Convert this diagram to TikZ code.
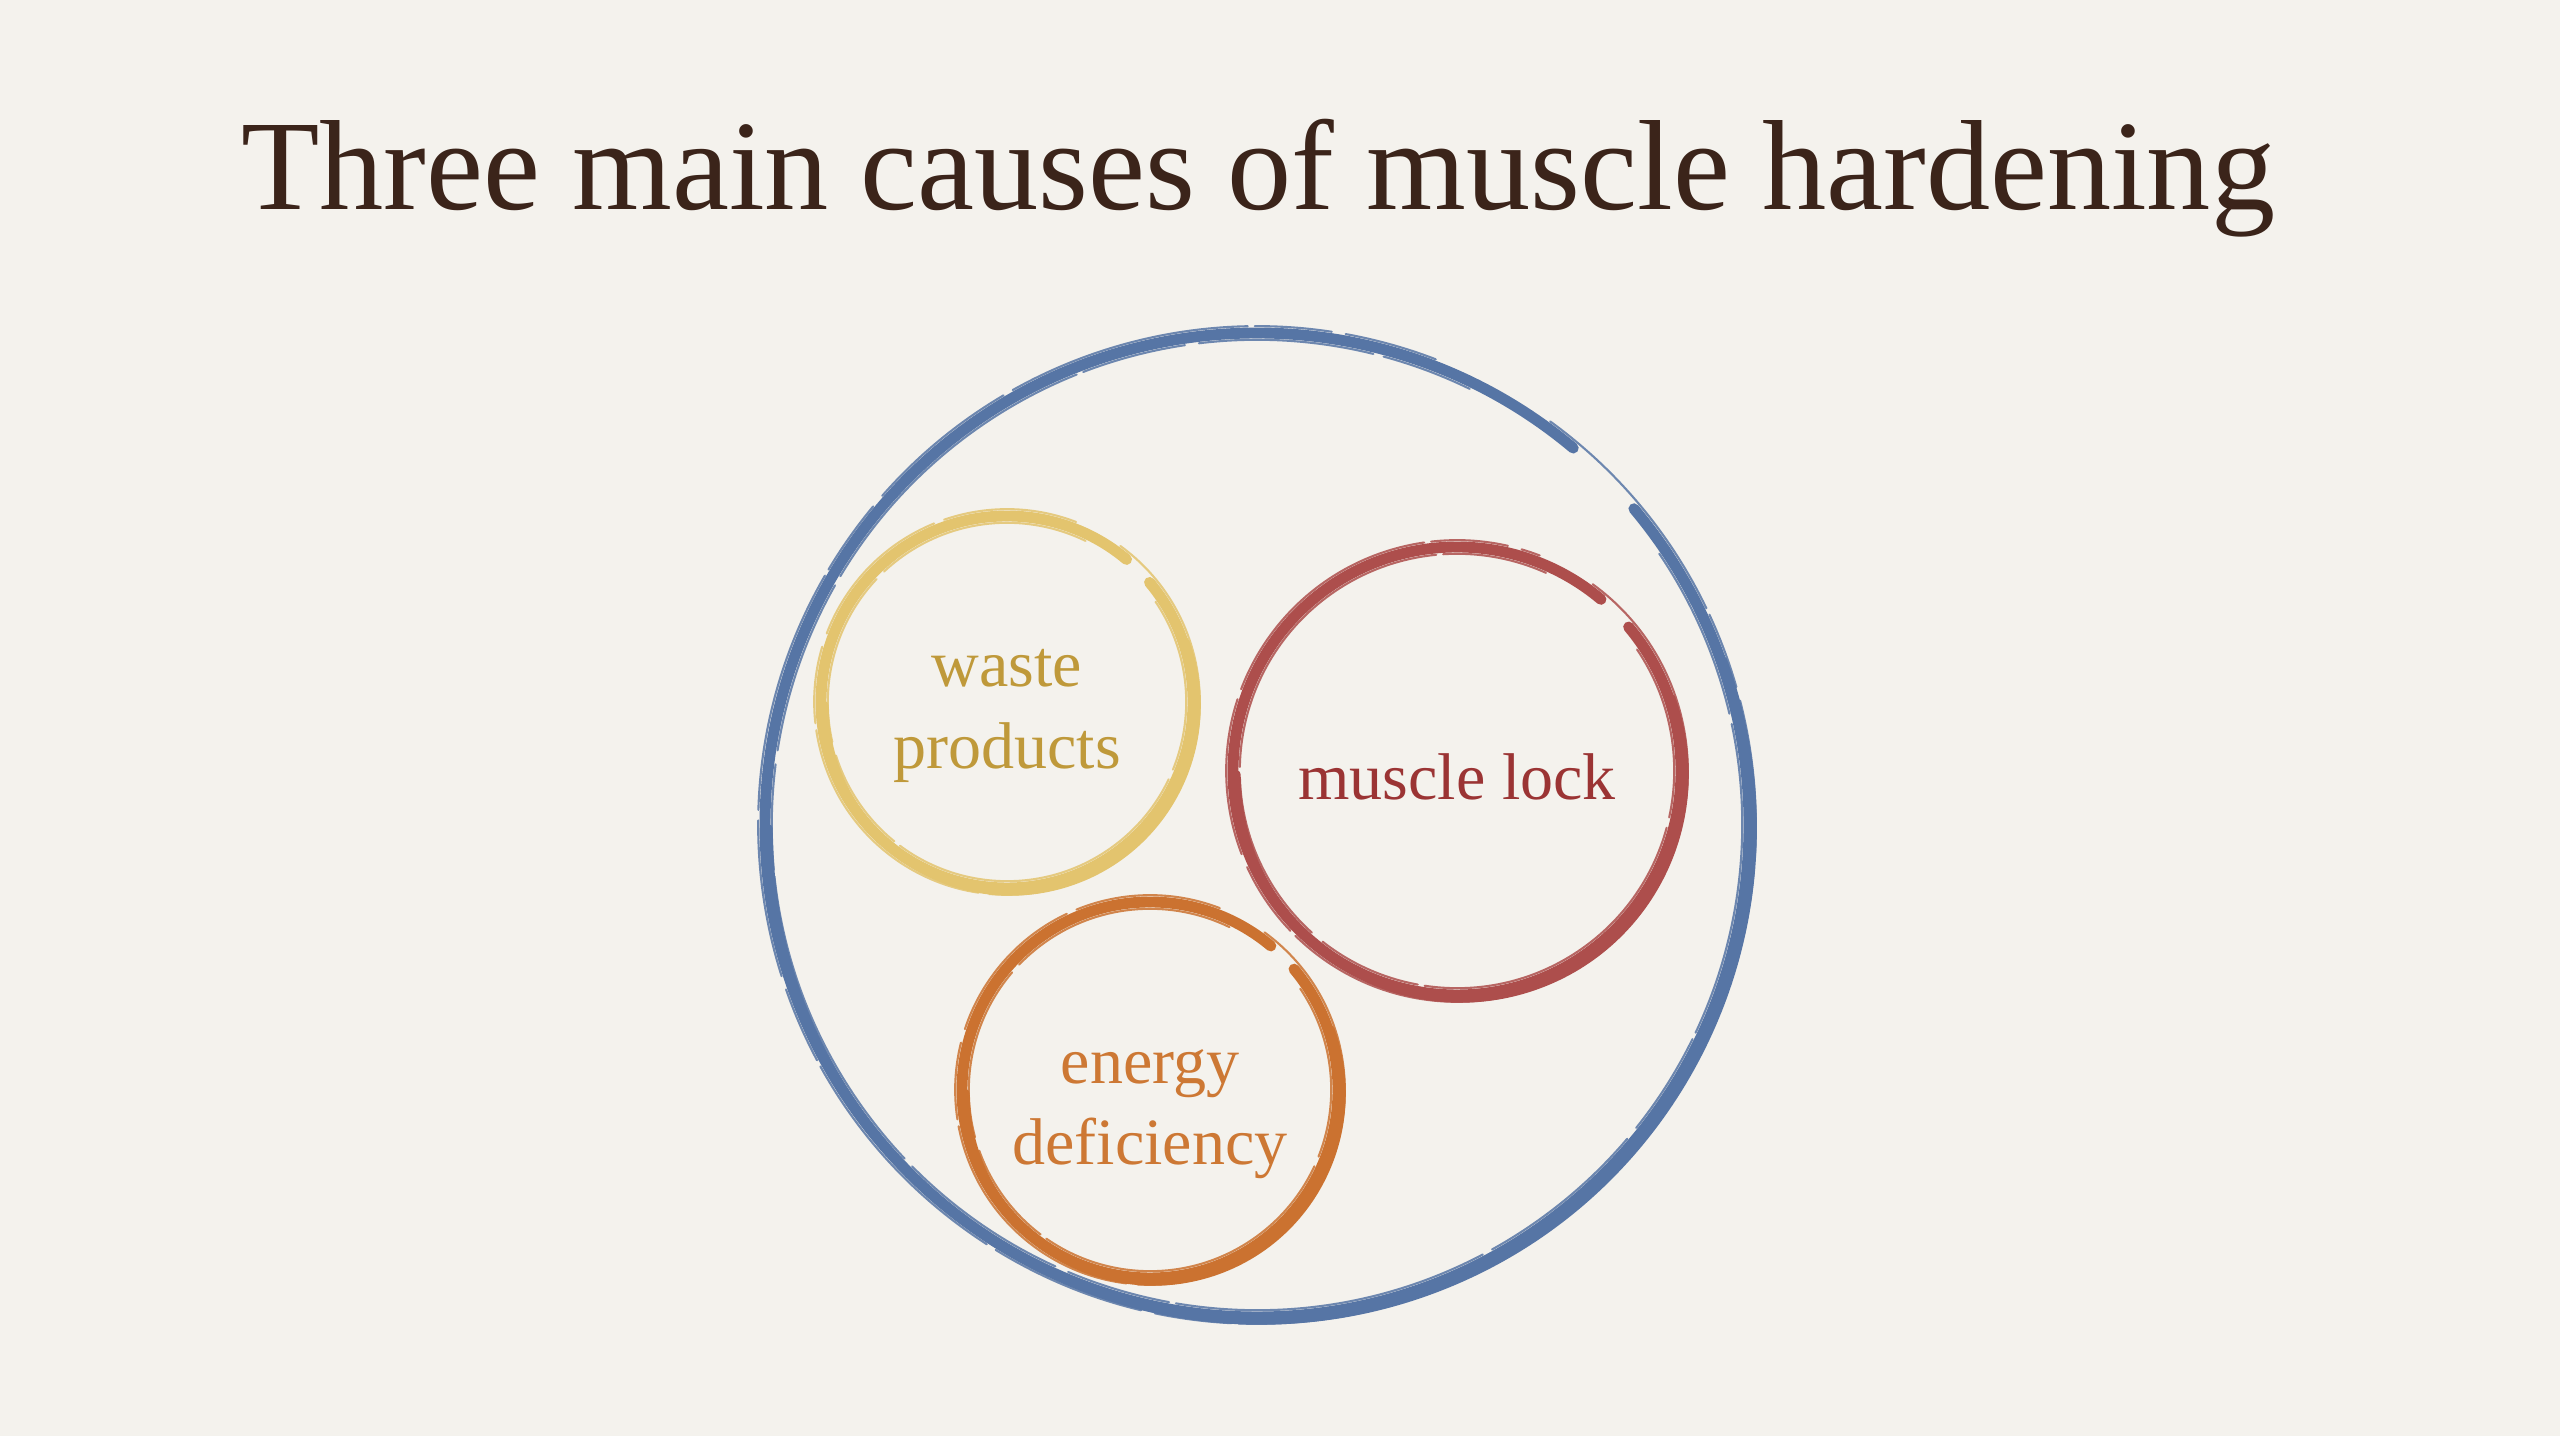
\documentclass[tikz,border=0pt]{standalone}
\usepackage{fontspec}
\setmainfont{Liberation Serif}
\usetikzlibrary{calc}
\definecolor{paper}{RGB}{244,242,237}
\definecolor{titlebrown}{RGB}{59,36,26}
\definecolor{ringblue}{RGB}{86,117,165}
\definecolor{ringgold}{RGB}{227,196,110}
\definecolor{ringred}{RGB}{173,78,76}
\definecolor{ringorange}{RGB}{203,114,48}
\definecolor{textgold}{RGB}{191,153,58}
\definecolor{textred}{RGB}{155,52,52}
\definecolor{textorange}{RGB}{205,120,52}

\begin{document}
\begin{tikzpicture}[line cap=round,line join=round,
  ring/.style={circle,inner sep=0pt},
  causetext/.style={align=center,inner sep=0pt,
    font=\fontsize{18.8}{23.2}\selectfont}]
 % Paper background, fixes the page size.
 \fill[paper] (0,0) rectangle (25.6,14.36);
 \useasboundingbox (0,0) rectangle (25.6,14.36);
 \node[titlebrown,font=\fontsize{36.5}{40}\selectfont,anchor=base]
  (title) at (12.58,12.26) {Three main causes of muscle hardening};
 % The body and the three causes inside it.
 \node[ring,minimum size=9.84cm] (body) at (12.57,6.11) {};
 \node[ring,minimum size=3.72cm] (waste) at (10.07,7.34) {};
 \node[ring,minimum size=4.48cm] (lock) at (14.57,6.65) {};
 \node[ring,minimum size=3.76cm] (energy) at (11.50,3.46) {};
 \node[causetext,textgold] (wastetxt) at ([yshift=-1.4mm]waste.center) {waste\\products};
 \node[causetext,textred] (locktxt) at ([yshift=-0.6mm]lock.center) {muscle lock};
 \node[causetext,textorange] (energytxt) at ([yshift=-2.4mm]energy.center) {energy\\deficiency};
 % Brush strokes: open ring with a gap at 45 degrees, plus loose bristles.
 \foreach \n/\r/\c in {body/4.92/ringblue,waste/1.86/ringgold,
   lock/2.24/ringred,energy/1.88/ringorange} {
  \draw[\c,line width=3.1pt]
   ($(\n)+(40:\r)$) arc[start angle=40,delta angle=-350,radius=\r];
  \draw[\c,line width=2.4pt]
   ($(\n)+(0.035,-0.035)+(20:\r)$) arc[start angle=20,delta angle=-200,radius=\r];
  \draw[\c,line width=.6pt,opacity=.85,dash pattern=on 70pt off 2pt on 22pt off 4pt on 45pt off 3pt]
   ($(\n)+(54:\r+.068)$) arc[start angle=54,delta angle=-345,radius=\r+.068];
  \draw[\c,line width=.6pt,opacity=.85,dash pattern=on 50pt off 3pt on 90pt off 2pt on 30pt off 4pt]
   ($(\n)+(34:\r-.068)$) arc[start angle=34,delta angle=-330,radius=\r-.068];
 }
\end{tikzpicture}
\end{document}
